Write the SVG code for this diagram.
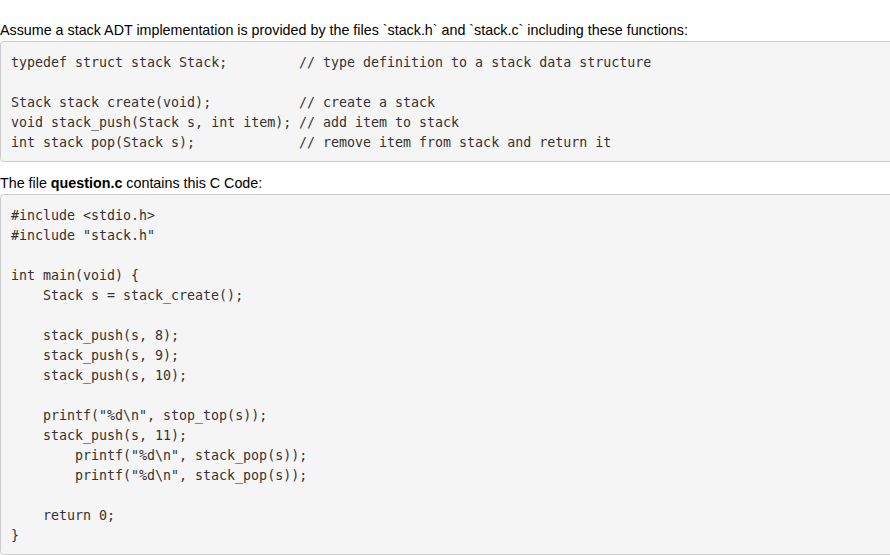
<svg xmlns="http://www.w3.org/2000/svg" width="890" height="555" viewBox="0 0 890 555">
<style>
.p{font-family:"Liberation Sans",Arial,sans-serif;font-size:14.3px;fill:#000}
.c{font-family:"DejaVu Sans Mono",monospace;font-size:13.3px;fill:#333}
.box{fill:#f5f5f5;stroke:#ccc;stroke-width:1}
</style>
<rect width="890" height="555" fill="#fff"/>
<text class="p" x="0" y="35">Assume a stack ADT implementation is provided by the files `stack.h` and `stack.c` including these functions:</text>
<rect class="box" x="0.5" y="41.5" width="894" height="120" rx="3"/>
<g class="c">
<text x="11" y="67">typedef struct stack Stack;</text><text x="299" y="67">// type definition to a stack data structure</text>
<text x="11" y="107">Stack stack create(void);</text><text x="299" y="107">// create a stack</text>
<text x="11" y="127">void stack_push(Stack s, int item);</text><text x="299" y="127">// add item to stack</text>
<text x="11" y="147">int stack pop(Stack s);</text><text x="299" y="147">// remove item from stack and return it</text>
</g>
<text class="p" x="0" y="188">The file <tspan font-weight="bold">question.c</tspan> contains this C Code:</text>
<rect class="box" x="0.5" y="194.5" width="894" height="360" rx="3"/>
<g class="c">
<text x="11" y="220">#include &lt;stdio.h&gt;</text>
<text x="11" y="240">#include "stack.h"</text>
<text x="11" y="280">int main(void) {</text>
<text x="43" y="300">Stack s = stack_create();</text>
<text x="43" y="340">stack_push(s, 8);</text>
<text x="43" y="360">stack_push(s, 9);</text>
<text x="43" y="380">stack_push(s, 10);</text>
<text x="43" y="420">printf("%d\n", stop_top(s));</text>
<text x="43" y="440">stack_push(s, 11);</text>
<text x="75" y="460">printf("%d\n", stack_pop(s));</text>
<text x="75" y="480">printf("%d\n", stack_pop(s));</text>
<text x="43" y="520">return 0;</text>
<text x="11" y="540">}</text>
</g>
</svg>
